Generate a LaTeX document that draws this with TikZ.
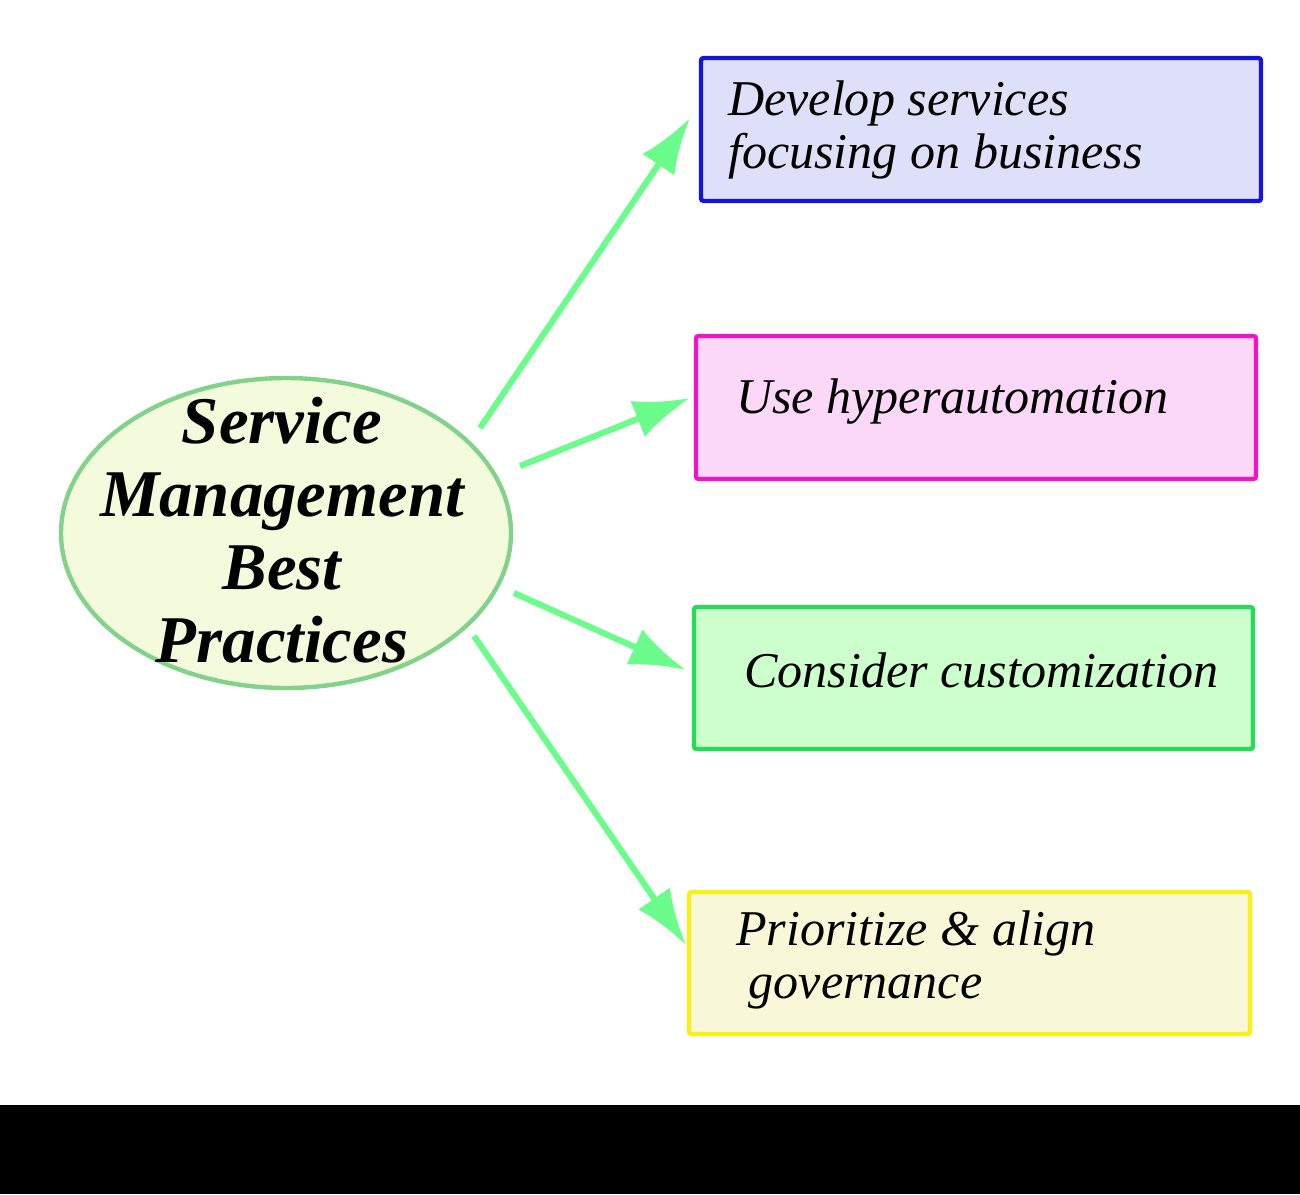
\documentclass[tikz,border=0pt]{standalone}
\usepackage{fontspec}
\setmainfont{Liberation Serif}
\usetikzlibrary{arrows.meta}
\begin{document}
\begin{tikzpicture}[x=0.02cm,y=-0.02cm,
  box/.style={draw, line width=2.5pt, rounded corners=1.5pt},
  txt/.style={font=\fontsize{28.5}{30}\selectfont\itshape, align=left, anchor=west},
  arr/.style={draw=arrgreen, line width=3.5pt, -{Latex[length=32pt,width=22pt]}}]
\definecolor{arrgreen}{HTML}{6CFC8C}
\useasboundingbox (0,0) rectangle (1300,1194);
\fill[black] (0,1105) rectangle (1300,1194);
\path[draw={rgb,255:red,130;green,210;blue,140}, line width=2.5pt, fill={rgb,255:red,244;green,250;blue,220}] (286,533) ellipse [x radius=225, y radius=155];
\node[font=\fontsize{38}{41.5}\selectfont\bfseries\itshape, align=center] (title) at (282,530) {Service\\Management\\Best\\Practices};
\node[box, draw={rgb,255:red,20;green,20;blue,220}, fill={rgb,255:red,221;green,224;blue,248}, minimum width=560*0.02cm, minimum height=143*0.02cm] (b1) at (981,129.5) {};
\node[box, draw={rgb,255:red,240;green,20;blue,200}, fill={rgb,255:red,252;green,216;blue,248}, minimum width=560*0.02cm, minimum height=143*0.02cm] (b2) at (976,407.5) {};
\node[box, draw={rgb,255:red,34;green,221;blue,85}, fill={rgb,255:red,204;green,255;blue,204}, minimum width=559*0.02cm, minimum height=142*0.02cm] (b3) at (973.5,678) {};
\node[box, draw={rgb,255:red,250;green,240;blue,20}, fill={rgb,255:red,248;green,248;blue,216}, minimum width=561*0.02cm, minimum height=142*0.02cm] (b4) at (969.5,963) {};
\node[txt] (t1) at (722,130) {Develop services\\focusing on business};
\node[txt] (t2) at (730,402) {Use hyperautomation};
\node[txt] (t3) at (738,670) {Consider customization};
\node[txt] (t4) at (730,960) {Prioritize \& align\\\ governance};
\coordinate (s1) at (480,428); \coordinate (e1) at (690,118);
\coordinate (s2) at (520,466); \coordinate (e2) at (690,398);
\coordinate (s3) at (514,593); \coordinate (e3) at (686,670);
\coordinate (s4) at (474,636); \coordinate (e4) at (686,945);
\draw[arr] (s1) -- (e1);
\draw[arr] (s2) -- (e2);
\draw[arr] (s3) -- (e3);
\draw[arr] (s4) -- (e4);
\end{tikzpicture}
\end{document}
